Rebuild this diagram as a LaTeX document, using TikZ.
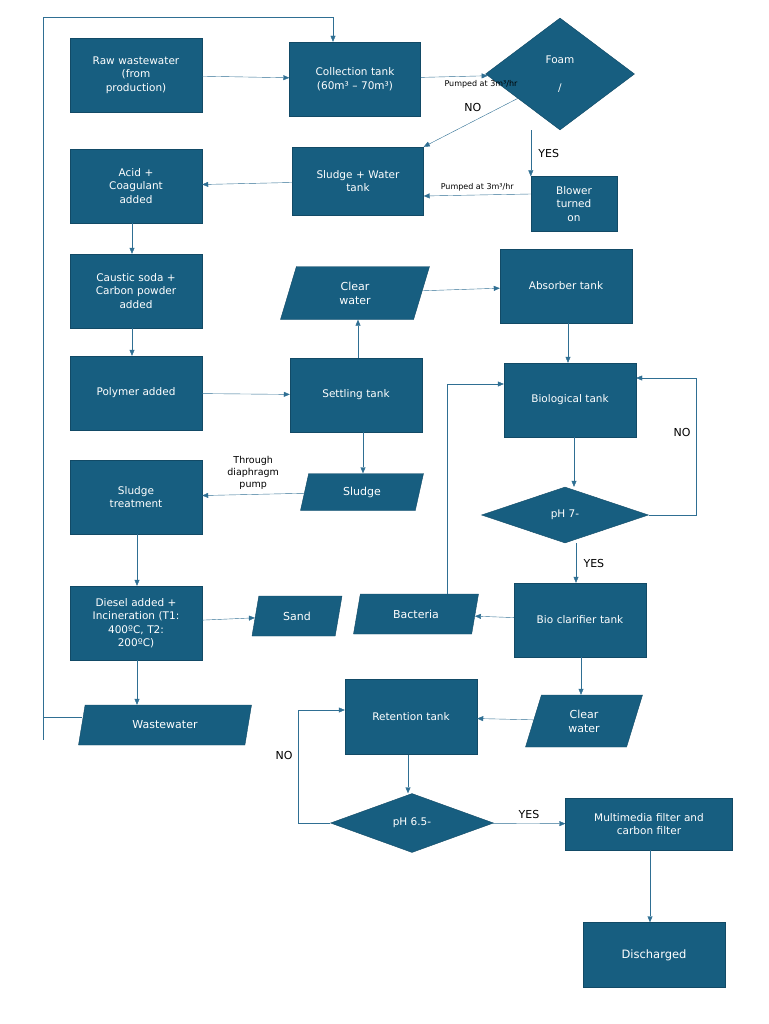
\documentclass[tikz,border=0pt]{standalone}
\usepackage{fontspec}
\setmainfont{DejaVu Sans}
\usetikzlibrary{shapes.geometric,arrows.meta}
\definecolor{boxfill}{HTML}{175E80}
\definecolor{boxline}{HTML}{124A66}
\definecolor{arrowc}{HTML}{2F6F93}
\tikzset{
  box/.style={draw=boxline, fill=boxfill, text=white, align=center, font=\fontsize{10.5}{13.5}\selectfont,
    minimum width=132pt, minimum height=74pt, inner sep=2pt, text width=122pt},
  para/.style={trapezium, trapezium left angle=57, trapezium right angle=123, trapezium stretches body,
    draw=boxline, fill=boxfill, text=white, align=center, font=\fontsize{11}{14}\selectfont, inner sep=1pt},
  dia/.style={diamond, draw=boxline, fill=boxfill, text=white, align=center, font=\fontsize{10.5}{13.5}\selectfont, inner sep=0pt},
  arr/.style={draw=arrowc, -{Triangle[length=6pt,width=5pt]}},
  lbl/.style={font=\fontsize{11}{13}\selectfont, text=black},
  small/.style={font=\fontsize{8}{10}\selectfont, text=black, align=center}
}
\begin{document}
\begin{tikzpicture}[x=1pt,y=-1pt]
\useasboundingbox (0,0) rectangle (768,1024);
\node[box] (raw) at (136,75) {Raw wastewater\\(from\\production)};
\node[box, minimum width=131pt] (coll) at (355,79) {Collection tank\\(60m³ – 70m³)};
\node[dia, minimum width=149pt, minimum height=112pt] (foam) at (560,74) {Foam\\[14pt]/};
\node[box, minimum width=131pt, minimum height=68pt] (sw) at (358,181) {Sludge + Water\\tank};
\node[box, minimum width=86pt, minimum height=55pt, text width=80pt] (blow) at (574,204) {Blower\\turned\\on};
\node[box] (acid) at (136,186) {Acid +\\Coagulant\\added};
\node[box] (caus) at (136,291) {Caustic soda +\\Carbon powder\\added};
\node[para, minimum width=149pt, minimum height=53pt] (cw1) at (355,293) {Clear\\water};
\node[box] (abs) at (566,286) {Absorber tank};
\node[box] (poly) at (136,393) {Polymer added};
\node[box] (set) at (356,395) {Settling tank};
\node[box] (bio) at (570,400) {Biological tank};
\node[box] (slt) at (136,497) {Sludge\\treatment};
\node[para, minimum width=123pt, minimum height=37pt] (sl) at (362,492) {Sludge};
\node[dia, minimum width=167pt, minimum height=56pt] (ph7) at (565,515) {pH 7-};
\node[box] (dies) at (136,623) {Diesel added +\\Incineration (T1:\\400ºC, T2:\\200ºC)};
\node[para, minimum width=90pt, minimum height=40pt] (sand) at (297,616) {Sand};
\node[para, minimum width=125pt, minimum height=40pt] (bact) at (416,614) {Bacteria};
\node[box] (bc) at (580,620) {Bio clarifier tank};
\node[para, minimum width=173pt, minimum height=40pt] (ww) at (165,725) {Wastewater};
\node[box, minimum height=75pt] (ret) at (411,717) {Retention tank};
\node[para, minimum width=117pt, minimum height=52pt] (cw2) at (584,721) {Clear\\water};
\node[dia, minimum width=163pt, minimum height=59pt] (ph65) at (412,823) {pH 6.5-};
\node[box, minimum width=167pt, minimum height=52pt, text width=160pt] (mm) at (649,824) {Multimedia filter and\\carbon filter};
\node[box, minimum width=142pt, minimum height=65pt, font=\fontsize{11.5}{14}\selectfont] (dis) at (654,955) {Discharged};
% connectors
\draw[arr] (raw) -- (coll);
\draw[arr] (coll) -- (foam) node[small, pos=0.9, below=1pt] {Pumped at 3m³/hr};
\draw[arr] (foam.210) -- (sw.north east) node[lbl, pos=0.35, above left] {NO};
\draw[arr] (foam.south -| blow.170) -- (blow.north -| blow.170) node[lbl, midway, right=4pt] {YES};
\draw[arr] (blow.west |- 0,194) -- (sw.east |- 0,196) node[small, midway, above=0pt] {Pumped at 3m³/hr};
\draw[arr] (sw) -- (acid);
\draw[arr] (acid.south -| 132,0) -- (caus.north -| 132,0);
\draw[arr] (caus.south -| 132,0) -- (poly.north -| 132,0);
\draw[arr] (poly) -- (set);
\draw[arr] (set.north -| 358,0) -- (cw1.south -| 358,0);
\draw[arr] (cw1) -- (abs);
\draw[arr] (abs.south -| 568,0) -- (bio.north -| 568,0);
\draw[arr] (set.south -| 363,0) -- (sl.north -| 363,0);
\draw[arr] (sl) -- (slt) node[small, midway, above=1pt, font=\fontsize{9.5}{12}\selectfont] {Through\\diaphragm\\pump};
\draw[arr] (bio.south -| 574,0) -- (ph7.north -| 574,0);
\draw[arr] (ph7.east) -- (696,515) |- (bio.east |- 0,378) node[lbl, pos=0.3, left=2pt] {NO};
\draw[arr] (ph7.south -| 576,0) -- (bc.north -| 576,0) node[lbl, midway, right=4pt] {YES};
\draw[arr] (slt.south -| 137,0) -- (dies.north -| 137,0);
\draw[arr] (dies) -- (sand);
\draw[arr] (bc) -- (bact);
\draw[arr] (bact.north -| 447,0) |- (bio.west |- 0,384);
\draw[arr] (dies.south -| 137,0) -- (ww.north -| 137,0);
\draw[arr] (ww.west |- 0,717) -- (43,717) -- (43,17) -| (coll.north -| 333,0);
\draw[arrowc] (43,717) -- (43,740);
\draw[arr] (bc.south -| 581,0) -- (cw2.north -| 581,0);
\draw[arr] (cw2) -- (ret);
\draw[arr] (ret.south -| 408,0) -- (ph65.north -| 408,0);
\draw[arr] (ph65.west) -- (298,823) |- (ret.west |- 0,710) node[lbl, pos=0.3, left=2pt] {NO};
\draw[arr] (ph65) -- (mm) node[lbl, midway, above=1pt] {YES};
\draw[arr] (mm.south -| 650,0) -- (dis.north -| 650,0);
\end{tikzpicture}
\end{document}
